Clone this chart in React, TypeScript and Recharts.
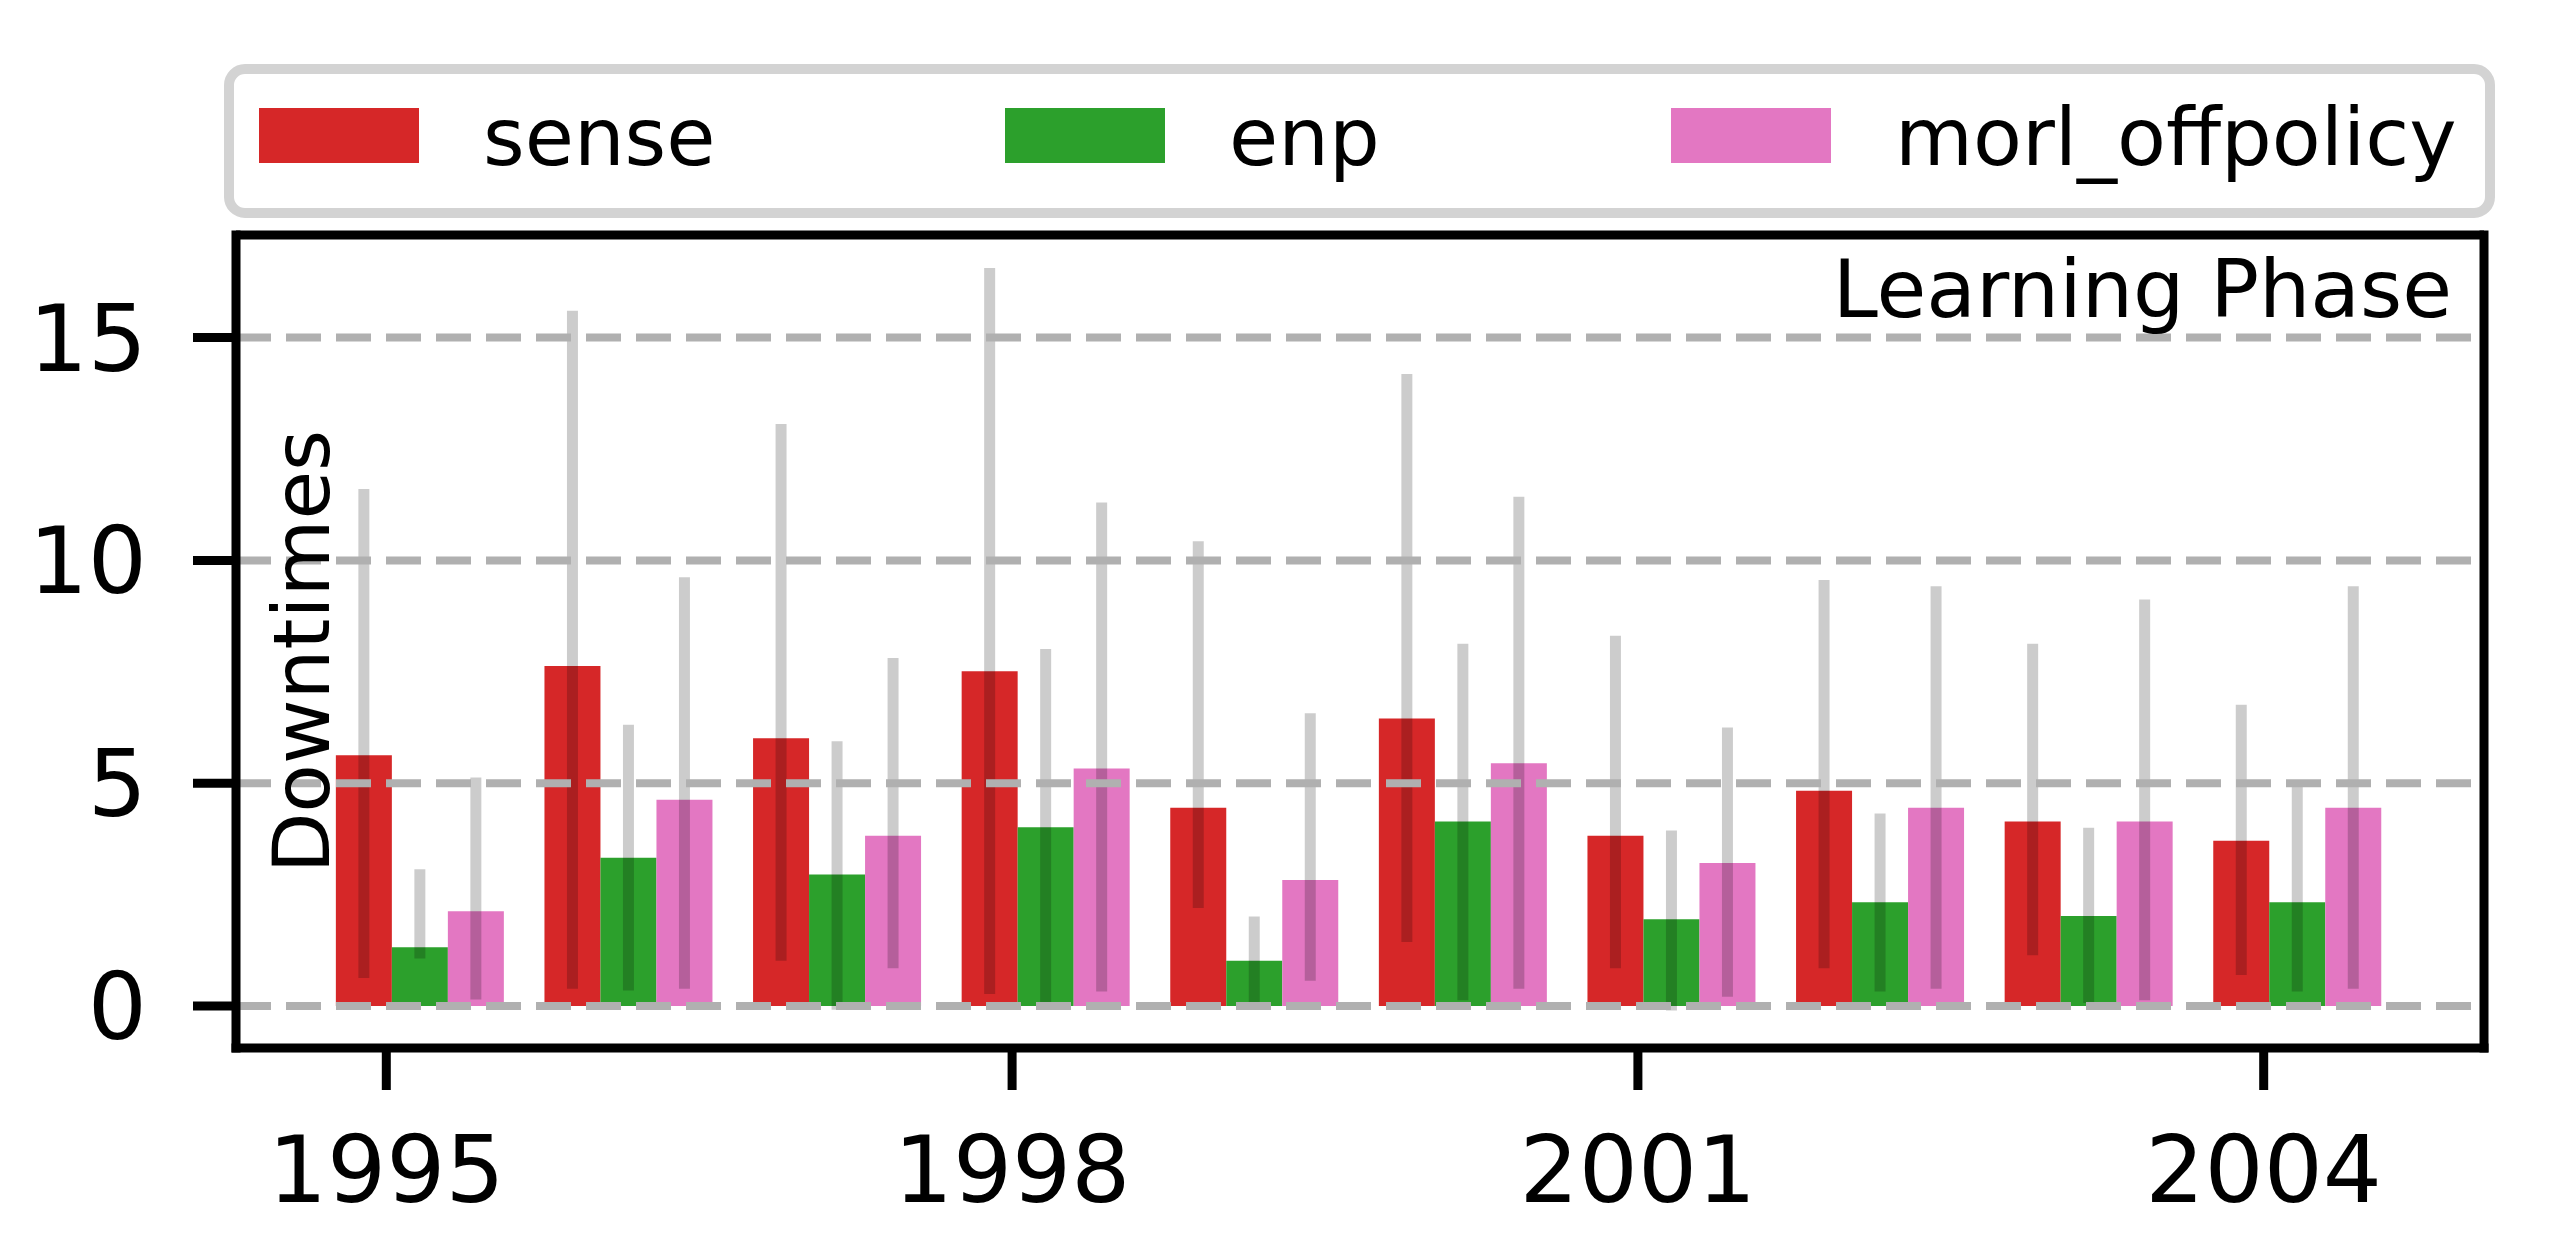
import React from 'react'
import { Bar, BarChart, ErrorBar, Label, ReferenceLine, XAxis, YAxis } from 'recharts'

// values
const years = ['1995', '1996', '1997', '1998', '1999', '2000', '2001', '2002', '2003', '2004']

const sense = [5.63, 7.63, 6.01, 7.51, 4.45, 6.45, 3.82, 4.83, 4.14, 3.71]
const senseLow = [0.63, 0.39, 1.02, 0.27, 2.2, 1.44, 0.85, 0.85, 1.14, 0.7]
const senseHigh = [11.6, 15.6, 13.06, 16.56, 10.43, 14.18, 8.31, 9.56, 8.13, 6.76]

const enp = [1.32, 3.33, 2.95, 4.01, 1.02, 4.14, 1.95, 2.33, 2.02, 2.33]
const enpLow = [1.07, 0.35, -0.08, 0.04, 0.04, 0.13, -0.1, 0.33, 0.07, 0.33]
const enpHigh = [3.07, 6.31, 5.94, 8.01, 2.01, 8.13, 3.94, 4.32, 4.0, 5.07]

const morl = [2.13, 4.63, 3.82, 5.33, 2.83, 5.45, 3.21, 4.45, 4.14, 4.45]
const morlLow = [0.15, 0.39, 0.85, 0.33, 0.57, 0.39, 0.21, 0.39, 0.13, 0.39]
const morlHigh = [5.13, 9.62, 7.81, 11.3, 6.57, 11.43, 6.25, 9.42, 9.12, 9.42]

const yTicks = [0, 5, 10, 15]
const yDomain = [-0.94, 17.3]

const series = [
  { key: 'sense', name: 'sense', color: '#d62728', values: sense, low: senseLow, high: senseHigh, axis: 'left' },
  { key: 'enp', name: 'enp', color: '#2ca02c', values: enp, low: enpLow, high: enpHigh, axis: 'left' },
  { key: 'morl', name: 'morl_offpolicy', color: '#e377c2', values: morl, low: morlLow, high: morlHigh, axis: 'right' },
]

const FONT = 'DejaVu Sans'
const W = 2562
const H = 1254
const TICK_SHIFT = -33
const legendCols = [35, 781, 1447]
const spine = { stroke: '#000', strokeWidth: 9, strokeLinecap: 'square' as const }

const data = years.map((year, i) => {
  const row: Record<string, unknown> = { year }
  for (const s of series) {
    row[s.key] = s.values[i]
    row[s.key + 'Err'] = [s.values[i] - s.low[i], s.high[i] - s.values[i]]
  }
  return row
})

function YearTick(props: any) {
  const { x, y, payload } = props
  const tx = x + TICK_SHIFT
  return (
    <g>
      <line x1={tx} x2={tx} y1={y} y2={y + 42} stroke="#000" strokeWidth={9} />
      <text x={tx} y={y + 154} textAnchor="middle" fontSize={93} fontFamily={FONT} fill="#000">
        {payload.value}
      </text>
    </g>
  )
}

function LegendBox() {
  return (
    <svg width={2271} height={154} style={{ position: 'absolute', left: 224, top: 64 }}>
      <rect x={5} y={5} width={2261} height={144} rx={16} fill="#fff" stroke="#d3d3d3" strokeWidth={10} />
      {series.map((s, i) => (
        <g key={s.key}>
          <rect x={legendCols[i]} y={44} width={160} height={55} fill={s.color} />
          <text x={legendCols[i] + 224} y={101} fontSize={80} fontFamily={FONT} fill="#000">
            {s.name}
          </text>
        </g>
      ))}
    </svg>
  )
}

export default function App() {
  return (
    <div style={{ position: 'relative', width: W, height: H, background: '#fff', fontFamily: FONT }}>
      <style>{'body{margin:0}'}</style>
      <BarChart
        width={W}
        height={H}
        data={data}
        margin={{ top: 235, right: 68, bottom: 0, left: 0 }}
        barCategoryGap="10%"
        barGap={0}
      >
        <XAxis
          dataKey="year"
          interval={2}
          padding={{ left: 79, right: 83 }}
          height={206}
          tickSize={0}
          tickMargin={0}
          tickLine={false}
          tick={<YearTick />}
          axisLine={spine}
        />
        <YAxis
          yAxisId="left"
          width={236}
          domain={yDomain}
          allowDataOverflow
          ticks={yTicks}
          tickSize={43}
          tickMargin={46}
          tick={{ fill: '#000', fontSize: 93, fontFamily: FONT }}
          tickLine={{ stroke: '#000', strokeWidth: 9 }}
          axisLine={spine}
        >
          <Label
            content={(p: any) => {
              const vb = p.viewBox || { x: 0, y: 235, width: 236, height: 813 }
              const lx = vb.x + vb.width + 93
              const ly = vb.y + vb.height / 2 + 10
              return (
                <text
                  x={lx}
                  y={ly}
                  transform={`rotate(-90, ${lx}, ${ly})`}
                  textAnchor="middle"
                  fontSize={79}
                  fontFamily={FONT}
                  fill="#000"
                >
                  Downtimes
                </text>
              )
            }}
          />
        </YAxis>
        <YAxis
          yAxisId="right"
          orientation="right"
          width={10}
          domain={yDomain}
          allowDataOverflow
          ticks={yTicks}
          tick={false}
          tickLine={false}
          axisLine={spine}
        />
        {series.map((s) => (
          <Bar key={s.key} yAxisId={s.axis} dataKey={s.key} name={s.name} fill={s.color} isAnimationActive={false}>
            <ErrorBar dataKey={s.key + 'Err'} width={0} stroke="rgba(0,0,0,0.2)" strokeWidth={11} />
          </Bar>
        ))}
        {yTicks.map((t) => (
          <ReferenceLine key={t} yAxisId="left" y={t} stroke="#b0b0b0" strokeWidth={8} strokeDasharray="35 15" />
        ))}
        <ReferenceLine yAxisId="left" y={yDomain[1]} stroke="#000" strokeWidth={9} ifOverflow="visible">
          <Label
            content={(p: any) => {
              const vb = p.viewBox || { x: 236, y: 235, width: 2248 }
              return (
                <text x={vb.x + vb.width - 32} y={vb.y + 82} textAnchor="end" fontSize={81} fontFamily={FONT} fill="#000">
                  Learning Phase
                </text>
              )
            }}
          />
        </ReferenceLine>
      </BarChart>
      <LegendBox />
    </div>
  )
}
